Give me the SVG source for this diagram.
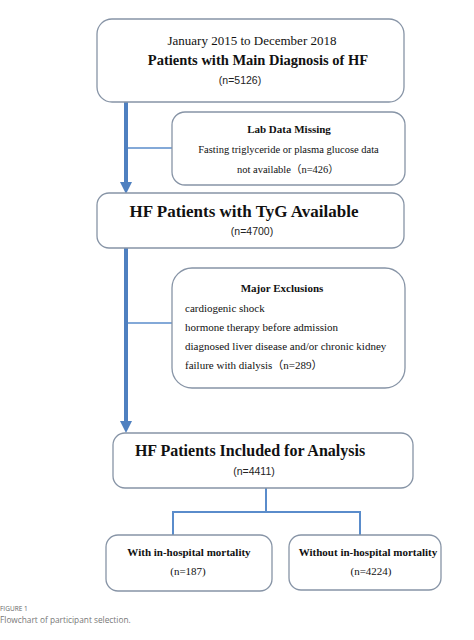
<svg xmlns="http://www.w3.org/2000/svg" width="474" height="640" viewBox="0 0 474 640">
<style>
.box{fill:#fff;stroke:#8794a6;stroke-width:1.3}
.serif{font-family:"Liberation Serif","Noto Sans CJK SC",serif;fill:#111}
.b{font-weight:bold}
.sans{font-family:"Liberation Sans","Noto Sans CJK SC",sans-serif;fill:#222;font-size:10.5px}
.thick{stroke:#4f80c0;stroke-width:4;fill:none}
.thin{stroke:#5a8ccb;stroke-width:1.5;fill:none}
.conn{stroke:#5a8ccb;stroke-width:2;fill:none}
.cap{font-family:"Open Sans","Liberation Sans",sans-serif}
</style>
<defs>
<marker id="ah" markerWidth="3" markerHeight="3" refX="1.5" refY="1.5" orient="auto" markerUnits="strokeWidth" viewBox="0 0 3 3">
<path d="M0,0 L3,1.5 L0,3 z" fill="#4f80c0"/>
</marker>
</defs>
<rect width="474" height="640" fill="#fff"/>
<g id="connectors">
<line class="thick" x1="126" y1="102" x2="126" y2="188" marker-end="url(#ah)"/>
<line class="thin" x1="128" y1="148" x2="172" y2="148"/>
<line class="thick" x1="126" y1="248" x2="126" y2="427" marker-end="url(#ah)"/>
<line class="thin" x1="128" y1="323" x2="172" y2="323"/>
<path class="conn" d="M266,488 V512 M173,535 V512 H360 V535"/>
</g>
<g id="n1">
<rect class="box" x="97" y="19" width="307" height="83" rx="15"/>
<text class="serif" x="252" y="45" font-size="13" text-anchor="middle">January 2015 to December 2018</text>
<text class="serif b" x="258" y="65" font-size="14.5" text-anchor="middle">Patients with Main Diagnosis of HF</text>
<text class="sans" x="240" y="84" text-anchor="middle">(n=5126)</text>
</g>
<g id="n2">
<rect class="box" x="172" y="112" width="233" height="73" rx="13"/>
<text class="serif b" x="289" y="133" font-size="11" text-anchor="middle">Lab Data Missing</text>
<text class="serif" x="288.5" y="153" font-size="10.5" text-anchor="middle">Fasting triglyceride or plasma glucose data</text>
<text class="serif" x="237" y="173" font-size="10.5">not available（n=426）</text>
</g>
<g id="n3">
<rect class="box" x="97" y="193" width="307" height="55" rx="12"/>
<text class="serif b" x="244" y="217" font-size="17" text-anchor="middle">HF Patients with TyG Available</text>
<text class="sans" x="252" y="235" text-anchor="middle">(n=4700)</text>
</g>
<g id="n4">
<rect class="box" x="172" y="268" width="233" height="120" rx="20"/>
<text class="serif b" x="282" y="292" font-size="11" text-anchor="middle">Major Exclusions</text>
<text class="serif" x="185" y="312" font-size="11">cardiogenic shock</text>
<text class="serif" x="185" y="331" font-size="11">hormone therapy before admission</text>
<text class="serif" x="185" y="350" font-size="11">diagnosed liver disease and/or chronic kidney</text>
<text class="serif" x="185" y="369" font-size="11">failure with dialysis（n=289）</text>
</g>
<g id="n5">
<rect class="box" x="113" y="433" width="300" height="55" rx="12"/>
<text class="serif b" x="250" y="456" font-size="16" text-anchor="middle">HF Patients Included for Analysis</text>
<text class="sans" x="254" y="475" text-anchor="middle">(n=4411)</text>
</g>
<g id="n6">
<rect class="box" x="106" y="535" width="166" height="56" rx="12"/>
<text class="serif b" x="189" y="556" font-size="11" text-anchor="middle">With in-hospital mortality</text>
<text class="serif" x="188" y="575" font-size="11" text-anchor="middle">(n=187)</text>
</g>
<g id="n7">
<rect class="box" x="289" y="535" width="152" height="55" rx="12"/>
<text class="serif b" x="368" y="556" font-size="11" text-anchor="middle">Without in-hospital mortality</text>
<text class="serif" x="371" y="575" font-size="11" text-anchor="middle">(n=4224)</text>
</g>
<g id="caption">
<text class="cap" x="0" y="611" font-size="6.5" fill="#666">FIGURE 1</text>
<text class="cap" x="0" y="623" font-size="8.3" fill="#777">Flowchart of participant selection.</text>
</g>
</svg>
